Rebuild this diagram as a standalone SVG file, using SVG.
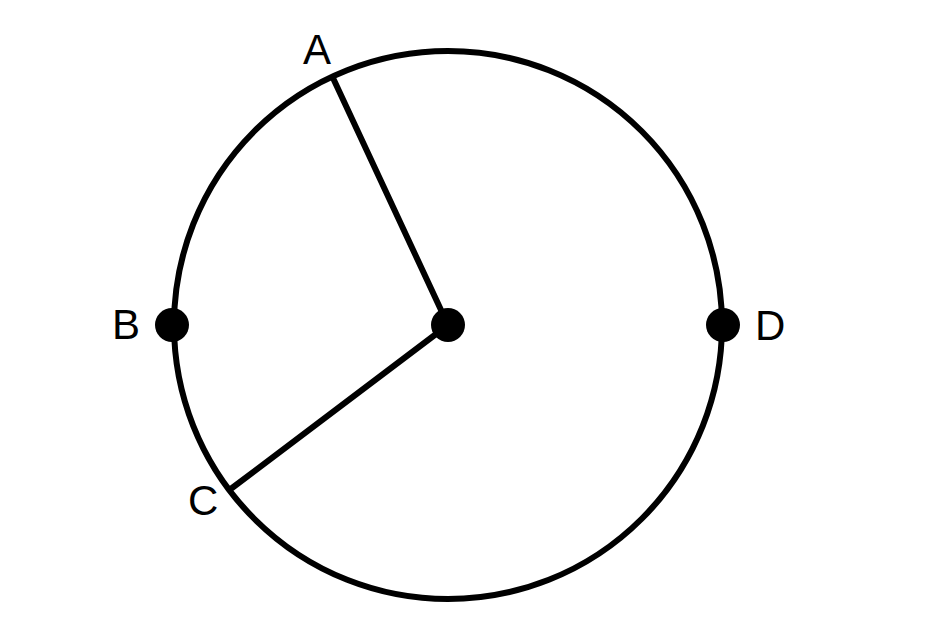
<svg xmlns="http://www.w3.org/2000/svg" width="946" height="621" viewBox="0 0 946 621">
<style>
.ln{fill:none;stroke:#000;stroke-width:6;stroke-linecap:round}
.dot{fill:#000}
.lbl{font-family:"Liberation Sans",Arial,sans-serif;font-size:42px;fill:#000}
</style>
<rect width="946" height="621" fill="#fff"/>
<g id="connectors">
<circle class="ln" cx="448" cy="325" r="274"/>
<line class="ln" x1="448" y1="325" x2="333" y2="78"/>
<line class="ln" x1="448" y1="325" x2="232" y2="488"/>
</g>
<g id="center"><circle class="dot" cx="448" cy="325" r="17"/></g>
<g id="A"><text class="lbl" x="303" y="64">A</text></g>
<g id="B"><circle class="dot" cx="172" cy="325" r="17"/><text class="lbl" x="112" y="339">B</text></g>
<g id="C"><text class="lbl" x="188" y="515">C</text></g>
<g id="D"><circle class="dot" cx="723" cy="325" r="17"/><text class="lbl" x="755" y="340">D</text></g>
</svg>
